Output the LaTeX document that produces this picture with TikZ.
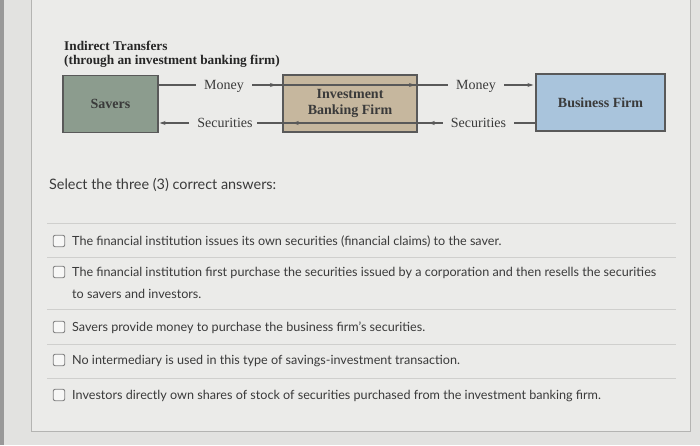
\documentclass[tikz,border=0pt]{standalone}
\usepackage{fontspec}
\setmainfont{Liberation Serif}
\newfontfamily\quizfont{Lato}
\usetikzlibrary{positioning,arrows.meta,decorations.markings}
\definecolor{photogray}{HTML}{E2E2E0}
\definecolor{panelgray}{HTML}{EBEBE9}
\definecolor{rulegray}{HTML}{CFCFCD}
\definecolor{edgegray}{HTML}{B4B4B2}
\definecolor{saverfill}{HTML}{8C9C8E}
\definecolor{bankfill}{HTML}{C6B79E}
\definecolor{firmfill}{HTML}{A9C4DC}
\definecolor{inkgray}{HTML}{3A3A3A}
\begin{document}
\begin{tikzpicture}[
        x=1pt, y=-1pt,
        flowbox/.style={rectangle, draw=black!65, line width=1.3pt, text=inkgray, align=center,
            font=\fontsize{14}{15.5}\selectfont\bfseries},
        flowlabel/.style={inner xsep=8pt, inner ysep=0pt, text=inkgray, text height=9pt, text depth=0pt,
            font=\fontsize{14}{14}\selectfont},
        flow/.style={draw=black!65, line width=1.1pt},
        tips/.style 2 args={postaction={decorate}, decoration={markings,
            mark=at position #1 with {\arrow{Stealth[length=6pt,width=4pt]}},
            mark=at position #2 with {\arrow{Stealth[length=6pt,width=4pt]}}}},
        titletext/.style={anchor=base west, inner sep=0pt, text=black!85, font=\fontsize{13.3}{14}\selectfont\bfseries},
        quiztext/.style={anchor=base west, inner sep=0pt, text=inkgray, align=left, font=\quizfont\fontsize{12.6}{22}\selectfont},
        checkbox/.style={rectangle, rounded corners=2pt, draw=black!50, line width=.9pt, fill=white!60!panelgray,
            minimum size=11.5pt, inner sep=0pt},
        separator/.style={draw=rulegray, line width=.9pt}
    ]
    \useasboundingbox (0,0) rectangle (700,445);
    % photo and panel
    \fill[photogray] (0,0) rectangle (700,445);
    \fill[black!40] (0,0) rectangle (4,445);
    \filldraw[fill=panelgray, draw=edgegray, line width=.8pt] (31,-5) rectangle (690,431);

    % diagram
    \node[titletext] (title) at (64,50) {Indirect Transfers};
    \node[titletext] (subtitle) at (64,64) {(through an investment banking firm)};

    \node[flowbox, fill=saverfill, minimum width=95pt, minimum height=57pt] (savers) at (110.5,104) {Savers};
    \node[flowbox, fill=bankfill, minimum width=134pt, minimum height=57pt] (bank) at (350,103.5) {Investment\\Banking Firm};
    \node[flowbox, fill=firmfill, minimum width=129pt, minimum height=57pt] (firm) at (600.5,102.5) {Business Firm};

    \node[flowlabel] (money1) at (224,85) {Money};
    \node[flowlabel] (money2) at (476,85) {Money};
    \node[flowlabel] (sec1) at (225,123) {Securities};
    \node[flowlabel] (sec2) at (478.5,123) {Securities};

    \draw[flow] (savers.east |- money1) -- (money1.west);
    \draw[flow, tips={24pt}{163pt}] (money1.east) -- (money2.west);
    \draw[flow, -{Stealth[length=6pt,width=4pt]}] (money2.east) -- ([xshift=-2pt]firm.west |- money2);
    \draw[flow] (firm.west |- sec2) -- (sec2.east);
    \draw[flow, tips={14pt}{150pt}] (sec2.west) -- ([xshift=-4pt]sec1.east);
    \draw[flow, -{Stealth[length=6pt,width=4pt]}] (sec1.west) -- ([xshift=1pt]savers.east |- sec1);

    % question
    \node[anchor=base west, inner sep=0pt, text=inkgray, font=\quizfont\fontsize{14.4}{16}\selectfont] (prompt) at (49,189) {Select the three (3) correct answers:};

    \foreach \y in {223,257,309,344,378}
        \draw[separator] (47,\y) -- (676,\y);

    \node[checkbox] (box1) at (59,241) {};
    \node[quiztext] (opt1) at (72,245.5) {The financial institution issues its own securities (financial claims) to the saver.};
    \node[checkbox] (box2) at (59,272) {};
    \node[quiztext] (opt2) at (72,298.5) {The financial institution first purchase the securities issued by a corporation and then resells the securities\\to savers and investors.};
    \node[checkbox] (box3) at (59,327) {};
    \node[quiztext] (opt3) at (72,331.5) {Savers provide money to purchase the business firm’s securities.};
    \node[checkbox] (box4) at (59,360) {};
    \node[quiztext] (opt4) at (72,364.5) {No intermediary is used in this type of savings-investment transaction.};
    \node[checkbox] (box5) at (59,395) {};
    \node[quiztext] (opt5) at (72,399.5) {Investors directly own shares of stock of securities purchased from the investment banking firm.};
\end{tikzpicture}
\end{document}
